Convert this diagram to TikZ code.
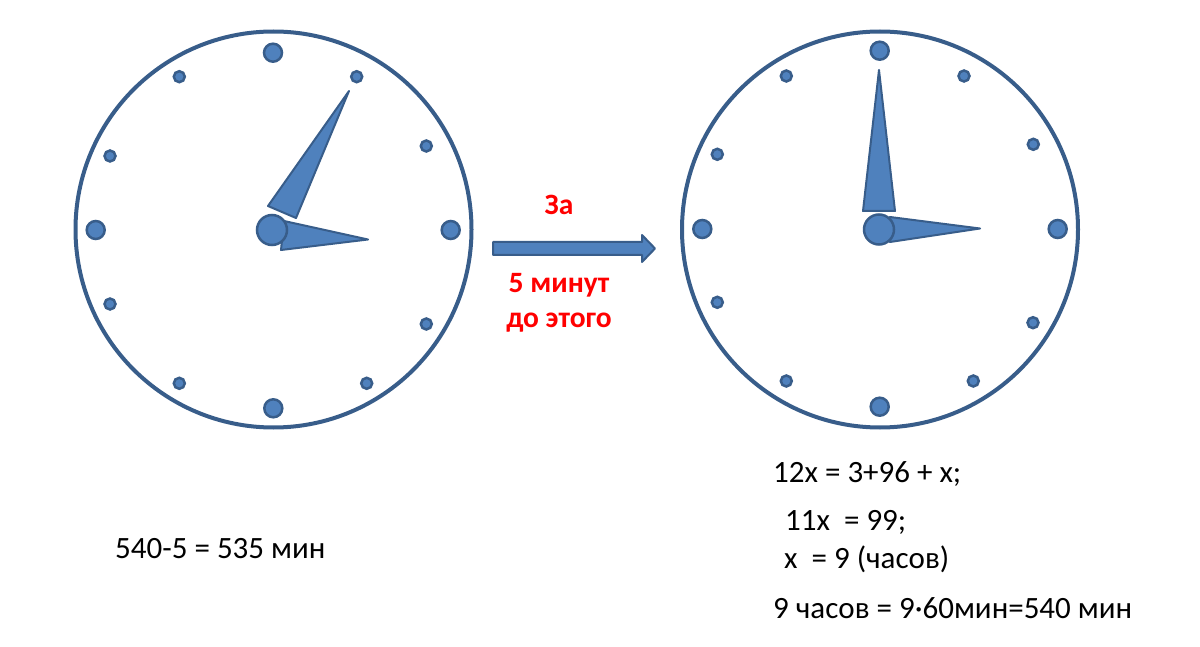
\documentclass[tikz,border=0pt]{standalone}
\usepackage{fontspec}
\setmainfont{Carlito}
\definecolor{clockblue}{HTML}{4F81BD}
\definecolor{clockrim}{HTML}{385D8A}
\definecolor{notered}{HTML}{FF0000}
\begin{document}
\begin{tikzpicture}[x=1pt,y=-1pt,
    rim/.style={draw=clockrim,line width=4pt},
    tick/.style={draw=clockrim,fill=clockblue,line width=2.5pt},
    hand/.style={draw=clockrim,fill=clockblue,line width=2pt,line join=round},
    note/.style={font=\fontsize{31}{36}\selectfont,anchor=base west,inner sep=0pt},
    redtxt/.style={font=\fontsize{29.5}{34}\selectfont\bfseries,text=notered,anchor=base,inner sep=0pt}]
    \useasboundingbox (0,0) rectangle (1200,647);
    % dials
    \draw[rim] (273.5,229.5) circle [radius=198pt];
    \draw[rim] (880,229.5) circle [radius=198pt];
    \foreach \x/\y in {273/52.7,450.7/230,95.7/230,273.3/408.3,
                       879.7/50.7,1057.7/229,702.3/229,879.7/406.7}
    \draw[tick] (\x,\y) circle [radius=9pt];
    \foreach \x/\y in {179.3/76.7,356.7/76.7,426.3/146,110/156,
                       110/304,426.3/324,179.3/383.3,366.7/383.3,
                       786.3/76,964/76,1033.3/144.3,717.3/154.3,
                       717.3/302.3,1033/322.7,973.3/381,786.3/381}
    \draw[tick] (\x,\y) circle [radius=5.5pt];
    % left clock hands
    \draw[hand] (268,206) -- (349,91) -- (296,218) -- cycle;
    \draw[hand] (284,221) -- (368,239.5) -- (281,250) -- cycle;
    \draw[tick] (272,230) circle [radius=15pt];
    % right clock hands
    \draw[hand] (863,211) -- (879,70) -- (895,211) -- cycle;
    \draw[hand] (890,217) -- (980,228.5) -- (890,242) -- cycle;
    \draw[tick] (879,229.5) circle [radius=15pt];
    % arrow
    \draw[hand] (493,242) -- (642,242) -- (642,235) -- (655,248.5)
        -- (642,262) -- (642,255) -- (493,255) -- cycle;
    \node[redtxt] (za) at (559,215) {За};
    \node[redtxt] (five) at (559,292) {5 минут};
    \node[redtxt] (before) at (559,327) {до этого};
    % sums
    \node[note] (left sum) at (115,558) {540-5 = 535 мин};
    \node[note] (eq one) at (773,482) {12x = 3+96 + x;};
    \node[note] (eq two) at (785,530) {11x\ \ = 99;};
    \node[note] (eq three) at (784,568) {x\ \ = 9 (часов)};
    \node[note] (eq four) at (773,618) {9 часов = 9·60мин=540 мин};
\end{tikzpicture}
\end{document}
